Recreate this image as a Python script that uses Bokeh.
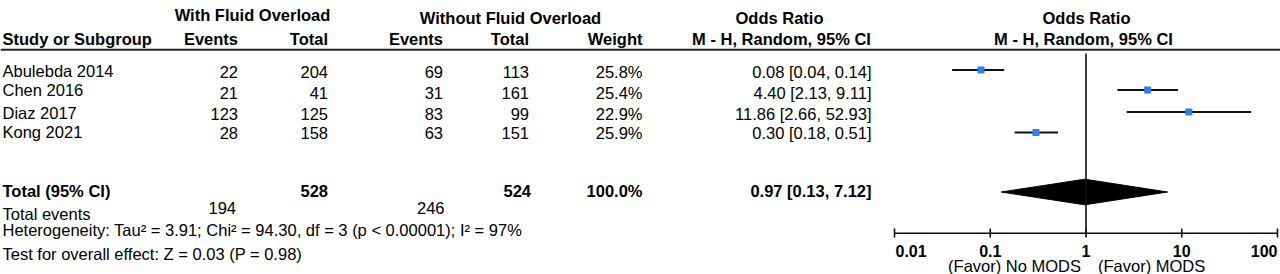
from bokeh.plotting import figure
from bokeh.models import Range1d, LogScale, ColumnDataSource
from bokeh.core.properties import value
from bokeh.embed import file_html
from bokeh.resources import INLINE

# ---------------- data ----------------
studies = ["Abulebda 2014", "Chen 2016", "Diaz 2017", "Kong 2021"]
fo_events = [22, 21, 123, 28]
fo_total = [204, 41, 125, 158]
nfo_events = [69, 31, 83, 63]
nfo_total = [113, 161, 99, 151]
weights = [25.8, 25.4, 22.9, 25.9]
or_est = [0.08, 4.40, 11.86, 0.30]
or_lo = [0.04, 2.13, 2.66, 0.18]
or_hi = [0.14, 9.11, 52.93, 0.51]

total_fo = 528
total_nfo = 524
total_weight = 100.0
events_fo = 194
events_nfo = 246
pooled_est, pooled_lo, pooled_hi = 0.97, 0.13, 7.12

heterogeneity = "Heterogeneity: Tau\u00b2 = 3.91; Chi\u00b2 = 94.30, df = 3 (p < 0.00001); I\u00b2 = 97%"
overall = "Test for overall effect: Z = 0.03 (P = 0.98)"

axis_ticks = [0.01, 0.1, 1, 10, 100]
axis_labels = ["0.01", "0.1", "1", "10", "100"]
favor_left = "(Favor) No MODS"
favor_right = "(Favor) MODS"

# ---------------- layout ----------------
W, H = 1280, 274
FONT = value("Liberation Sans")
FS = value("16.5px")
FS_AX = value("16px")

PX_AT_1 = 1085.5      # pixel where OR = 1 sits
PX_PER_DEC = 95.75    # pixels per decade

NAME_Y = [70.7, 89.3, 112.7, 131.7]
VAL_Y = [71.0, 92.5, 113.0, 132.0]
MARK_Y = [69.5, 89.5, 111.5, 132.0]

COL_FO_EV = 237.5
COL_FO_TOT = 327.5
COL_NFO_EV = 442.5
COL_NFO_TOT = 528.5
COL_W = 642
COL_OR = 871

p = figure(width=W, height=H, x_range=Range1d(0, W), y_range=Range1d(H, 0),
           output_backend="svg", toolbar_location=None, min_border=0,
           x_axis_location=None, y_axis_location=None)
p.grid.visible = False
p.outline_line_color = None
p.background_fill_color = "white"
p.border_fill_color = "white"

p.extra_x_ranges = {"or": Range1d(start=10 ** ((0 - PX_AT_1) / PX_PER_DEC),
                                  end=10 ** ((W - PX_AT_1) / PX_PER_DEC))}
p.extra_x_scales = {"or": LogScale()}


def txt(x, y, t, align="left", bold=False, size=FS, rng=None, x_offset=0):
    kw = dict(x=x, y=y, text=t, text_font=FONT, text_font_size=size,
              text_font_style="bold" if bold else "normal",
              text_align=align, text_baseline="alphabetic",
              text_color="#000000", x_offset=x_offset)
    if rng:
        kw["x_range_name"] = rng
    p.text(**kw)


# headers
txt([252], [14.0], ["With Fluid Overload"], "center", True)
txt([510], [17.3], ["Without Fluid Overload"], "center", True)
txt([779], [17.3], ["Odds Ratio"], "center", True)
txt([1086], [17.3], ["Odds Ratio"], "center", True)
hy = 38.5
txt([2], [hy], ["Study or Subgroup"], "left", True)
txt([COL_FO_EV], [hy], ["Events"], "right", True)
txt([COL_FO_TOT], [hy], ["Total"], "right", True)
txt([COL_NFO_EV], [hy], ["Events"], "right", True)
txt([COL_NFO_TOT], [hy], ["Total"], "right", True)
txt([COL_W], [hy], ["Weight"], "right", True)
txt([781], [hy], ["M - H, Random, 95% CI"], "center", True)
txt([1083], [hy], ["M - H, Random, 95% CI"], "center", True)

p.segment(x0=[0], y0=[49.3], x1=[W], y1=[49.3], line_color="#222222", line_width=2)

# study rows
src = ColumnDataSource(dict(
    name=studies, ny=NAME_Y, vy=VAL_Y, my=MARK_Y,
    fe=[str(v) for v in fo_events], ft=[str(v) for v in fo_total],
    ne=[str(v) for v in nfo_events], nt=[str(v) for v in nfo_total],
    w=[f"{v:.1f}%" for v in weights],
    ort=[f"{e:.2f} [{l:.2f}, {h:.2f}]" for e, l, h in zip(or_est, or_lo, or_hi)],
    est=or_est, lo=or_lo, hi=or_hi,
))


def coltext(x, field, yfield, align):
    p.text(x=x, y=yfield, text=field, source=src, text_font=FONT, text_font_size=FS,
           text_align=align, text_baseline="alphabetic", text_color="#000000")


coltext(2, "name", "ny", "left")
coltext(COL_FO_EV, "fe", "vy", "right")
coltext(COL_FO_TOT, "ft", "vy", "right")
coltext(COL_NFO_EV, "ne", "vy", "right")
coltext(COL_NFO_TOT, "nt", "vy", "right")
coltext(COL_W, "w", "vy", "right")
coltext(COL_OR, "ort", "vy", "right")

# forest: CIs and markers
p.segment(x0="lo", y0="my", x1="hi", y1="my", source=src, x_range_name="or",
          line_color="#111111", line_width=2)
p.scatter(x="est", y="my", source=src, x_range_name="or", marker="square",
          size=7, fill_color="#2e7fea", line_color=None)

# total row
ty = 190.3
txt([2], [ty], ["Total (95% CI)"], "left", True)
txt([COL_FO_TOT], [ty], [str(total_fo)], "right", True)
txt([COL_NFO_TOT + 2], [ty], [str(total_nfo)], "right", True)
txt([COL_W], [ty], [f"{total_weight:.1f}%"], "right", True)
txt([COL_OR], [ty], [f"{pooled_est:.2f} [{pooled_lo:.2f}, {pooled_hi:.2f}]"], "right", True)

txt([2], [213.0], ["Total events"], "left")
txt([COL_FO_EV - 2], [207.7], [str(events_fo)], "right")
txt([COL_NFO_EV + 1.5], [207.7], [str(events_nfo)], "right")
txt([2], [229.5], [heterogeneity], "left")
txt([2], [253.0], [overall], "left")

# pooled diamond
dy, dh = 191.5, 12.8
p.patch(x=[pooled_lo, pooled_est, pooled_hi, pooled_est],
        y=[dy, dy - dh, dy, dy + dh], x_range_name="or",
        fill_color="#000000", line_color="#000000", line_width=1)

# line of no effect
AX_Y = 232.7
p.segment(x0=[1], y0=[53], x1=[1], y1=[AX_Y], x_range_name="or",
          line_color="#111111", line_width=1.6)

# axis
p.segment(x0=[axis_ticks[0]], y0=[AX_Y], x1=[axis_ticks[-1]], y1=[AX_Y],
          x_range_name="or", line_color="#111111", line_width=1.6)
p.segment(x0=axis_ticks, y0=[228] * len(axis_ticks), x1=axis_ticks,
          y1=[237] * len(axis_ticks), x_range_name="or",
          line_color="#111111", line_width=1.6)
aligns = ["left"] + ["center"] * (len(axis_ticks) - 2) + ["right"]
offs = [1] + [0] * (len(axis_ticks) - 2) + [0]
for t, lab, al, o in zip(axis_ticks, axis_labels, aligns, offs):
    txt([t], [250.3], [lab], al, True, FS_AX, "or", o)

txt([1], [265.5], [favor_left], "right", False, FS, "or", -5)
txt([1], [265.5], [favor_right], "left", False, FS, "or", 12)

open("out.html", "w").write(file_html(p, INLINE))
